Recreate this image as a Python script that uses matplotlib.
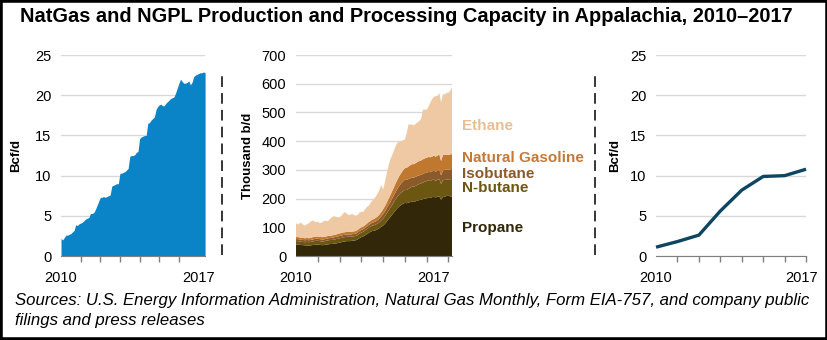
#!/usr/bin/env python3
# -*- coding: utf-8 -*-
'''Appalachia natgas production, NGPL production and processing capacity, 2010-2017.'''

import matplotlib
matplotlib.use('Agg')
import matplotlib.pyplot as plt
from matplotlib import font_manager
from matplotlib.patches import Rectangle
import numpy as np

# Data
# Marketed natural gas production, Bcf/d, monthly Jan 2010 - May 2017
gas_production = [
    2.2, 2.0, 2.3, 2.6, 2.6, 2.7, 2.8, 3.0, 3.2, 3.9, 3.8, 4.0,
    4.1, 4.2, 4.4, 4.6, 4.7, 4.8, 5.3, 5.3, 5.4, 5.8, 6.3, 6.8,
    7.3, 7.3, 7.4, 7.3, 7.4, 7.5, 7.6, 8.7, 8.8, 8.9, 9.0, 9.0,
    10.3, 10.3, 10.4, 10.5, 10.7, 10.9, 12.4, 12.5, 12.5, 12.6, 12.9, 13.0,
    14.6, 14.8, 14.9, 15.0, 15.0, 16.5, 16.6, 16.9, 17.1, 17.3, 18.2, 18.6,
    18.8, 18.9, 18.7, 18.7, 19.0, 19.2, 19.4, 19.6, 19.7, 19.8, 20.3, 20.9,
    21.5, 22.0, 21.7, 21.5, 21.5, 21.6, 21.8, 21.3, 21.6, 22.3, 22.5, 22.6,
    22.7, 22.8, 22.8, 22.9, 22.8,
]

# NGPL production by product, thousand b/d, monthly Jan 2010 - Mar 2017
propane = [
    40, 40, 39, 38, 38, 37, 37, 36, 37, 38, 39, 40,
    40, 39, 38, 38, 39, 40, 41, 42, 42, 43, 44, 45,
    47, 48, 50, 51, 52, 52, 52, 53, 54, 55, 58, 62,
    66, 68, 72, 76, 80, 84, 87, 88, 90, 93, 97, 102,
    106, 112, 120, 128, 136, 144, 152, 160, 167, 173, 178, 182,
    185, 184, 186, 188, 190, 188, 191, 193, 195, 196, 198, 200,
    201, 203, 202, 205, 206, 204, 207, 208, 196, 205, 207, 209,
    210, 208, 207,
]
n_butane = [
    12, 12, 12, 11, 11, 11, 12, 12, 12, 12, 13, 13,
    13, 13, 13, 13, 13, 14, 14, 14, 14, 14, 15, 15,
    15, 15, 15, 15, 15, 15, 15, 15, 15, 15, 15, 16,
    16, 16, 17, 17, 18, 18, 19, 19, 20, 20, 21, 22,
    24, 26, 28, 30, 32, 34, 36, 38, 40, 42, 43, 44,
    45, 46, 48, 50, 52, 53, 54, 55, 56, 57, 58, 59,
    60, 60, 59, 60, 60, 58, 59, 60, 55, 59, 58, 57,
    56, 57, 58,
]
isobutane = [
    7, 7, 7, 7, 7, 7, 7, 7, 7, 7, 7, 7,
    7, 7, 7, 7, 7, 7, 7, 7, 8, 8, 8, 8,
    8, 8, 8, 8, 8, 8, 8, 8, 8, 8, 9, 9,
    9, 9, 9, 9, 10, 10, 10, 11, 11, 12, 13, 14,
    16, 17, 18, 19, 20, 22, 24, 26, 28, 30, 32, 34,
    36, 35, 34, 33, 32, 32, 31, 31, 30, 30, 30, 30,
    29, 30, 31, 30, 31, 32, 32, 33, 30, 34, 35, 36,
    35, 37, 38,
]
natural_gasoline = [
    7, 7, 7, 7, 7, 7, 7, 7, 7, 8, 8, 8,
    8, 8, 8, 8, 8, 8, 8, 8, 8, 8, 8, 9,
    9, 9, 9, 9, 9, 9, 9, 9, 9, 9, 9, 9,
    9, 9, 10, 10, 10, 10, 11, 11, 12, 13, 14, 15,
    17, 18, 20, 22, 24, 26, 28, 30, 32, 34, 36, 38,
    40, 42, 44, 45, 46, 47, 48, 49, 50, 50, 51, 51,
    52, 52, 52, 51, 53, 52, 52, 53, 50, 54, 52, 51,
    52, 52, 52,
]
ethane = [
    48, 44, 49, 52, 46, 44, 48, 52, 56, 59, 54, 50,
    52, 48, 50, 54, 56, 52, 54, 60, 64, 66, 62, 58,
    56, 60, 66, 70, 64, 58, 60, 62, 56, 54, 52, 56,
    54, 52, 54, 59, 56, 62, 66, 70, 74, 80, 86, 94,
    68, 84, 102, 115, 125, 125, 128, 130, 128, 120, 112, 105,
    100, 120, 146, 142, 138, 135, 137, 138, 139, 145, 173, 170,
    168, 175, 190, 200, 205, 211, 208, 214, 204, 212, 211, 216,
    215, 222, 231,
]
ngpl_names = ['Propane', 'N-butane', 'Isobutane', 'Natural Gasoline', 'Ethane']

# Gas processing capacity, Bcf/d, yearly
capacity_years = [2010, 2011, 2012, 2013, 2014, 2015, 2016, 2017]
capacity = [1.1, 1.8, 2.6, 5.6, 8.2, 9.9, 10.0, 10.8]

# Styles
ngpl_colors = ['#33270a', '#6b5612', '#8b5a2b', '#c0782f', '#eec9a3']
label_colors = ['#33270a', '#6b5612', '#8b5a2b', '#c47a36', '#e8be96']
label_y = [98, 238, 287, 343, 454]

font = 'Liberation Sans'
installed = {f.name for f in font_manager.fontManager.ttflist}
narrow = 'Liberation Sans Narrow' if 'Liberation Sans Narrow' in installed else font
plt.rcParams['font.family'] = [font, 'DejaVu Sans']


def style_axis(ax, ylim, yticks, ylabel, label_x):
    '''Grid, spines and ticks in the EIA look.'''
    ax.set_ylim(*ylim)
    ax.set_yticks(yticks)
    ax.yaxis.grid(True, color='#d9d9d9', linewidth=1)
    ax.set_axisbelow(True)
    for s in ['left', 'right', 'top']:
        ax.spines[s].set_visible(False)
    ax.spines['bottom'].set_color('#7f7f7f')
    ax.spines['bottom'].set_zorder(5)
    ax.tick_params(axis='y', length=0, labelsize=10.5, pad=7)
    ax.tick_params(axis='x', which='major', length=0, labelsize=10.5, pad=11)
    ax.tick_params(axis='x', which='minor', length=4, color='#7f7f7f', width=1)
    ax.set_xticks(np.arange(2010, 2018), minor=True)
    ax.set_ylabel(ylabel, fontsize=9.5, fontweight='bold')
    ax.yaxis.set_label_coords(label_x, 0.5)


fig_dpi = 100
fig = plt.figure(figsize=(828 / fig_dpi, 340 / fig_dpi), dpi=fig_dpi)

ax1 = fig.add_axes([0.0737, 0.247, 0.174, 0.591])
ax2 = fig.add_axes([0.3575, 0.247, 0.1884, 0.591])
ax3 = fig.add_axes([0.7923, 0.247, 0.1812, 0.591])

# Panel 1: production
x_gas = 2010 + np.arange(len(gas_production)) / 12
ax1.fill_between(x_gas, 0, gas_production, color='#0a84c6', linewidth=0)
ax1.set_xlim(x_gas[0], x_gas[-1])
style_axis(ax1, (0, 25), [0, 5, 10, 15, 20, 25], 'Bcf/d', -0.27)
ax1.set_xticks([2010, 2017], ['2010', '2017'])

# Panel 2: NGPL stacked
x_ngpl = 2010 + np.arange(len(propane)) / 12
ax2.stackplot(x_ngpl, propane, n_butane, isobutane, natural_gasoline, ethane,
              colors=ngpl_colors, linewidth=0)
ax2.set_xlim(x_ngpl[0], x_ngpl[-1])
style_axis(ax2, (0, 700), range(0, 701, 100), 'Thousand b/d', -0.27)
ax2.set_xticks([2010, 2016.3], ['2010', '2017'])
for name, c, yv in zip(ngpl_names, label_colors, label_y):
    ax2.text(1.064, yv, name, color=c, fontsize=11, fontweight='bold',
             va='center', ha='left', transform=ax2.get_yaxis_transform(),
             clip_on=False)

# Panel 3: processing capacity
ax3.plot(capacity_years, capacity, color='#0e4562', linewidth=2.4,
         solid_capstyle='butt', clip_on=False, zorder=6)
ax3.set_xlim(2010, 2017)
style_axis(ax3, (0, 25), [0, 5, 10, 15, 20, 25], 'Bcf/d', -0.23)
ax3.set_xticks([2010, 2016.78], ['2010', '2017'])

# Dashed separators
for xs in [222 / 828, 595 / 828]:
    fig.add_artist(plt.Line2D([xs, xs], [1 - 255 / 340, 1 - 73 / 340],
                              color='black', linewidth=1.1, dashes=(7, 4)))

fig.text(0.024, 0.952, 'NatGas and NGPL Production and Processing Capacity in Appalachia, 2010\u20132017',
         fontsize=14.4, fontweight='bold', ha='left', va='center')
fig.text(0.018, 1 - 300 / 340,
         'Sources: U.S. Energy Information Administration, Natural Gas Monthly, Form EIA-757, and company public',
         fontsize=12.1, style='italic', family=narrow, ha='left', va='center')
fig.text(0.018, 1 - 321 / 340, 'filings and press releases',
         fontsize=12.1, style='italic', family=narrow, ha='left', va='center')

fig.patches.append(Rectangle((0, 0), 1, 1, transform=fig.transFigure, fill=False,
                             edgecolor='black', linewidth=4))

fig.savefig('out.png', dpi=fig_dpi)
plt.close(fig)
